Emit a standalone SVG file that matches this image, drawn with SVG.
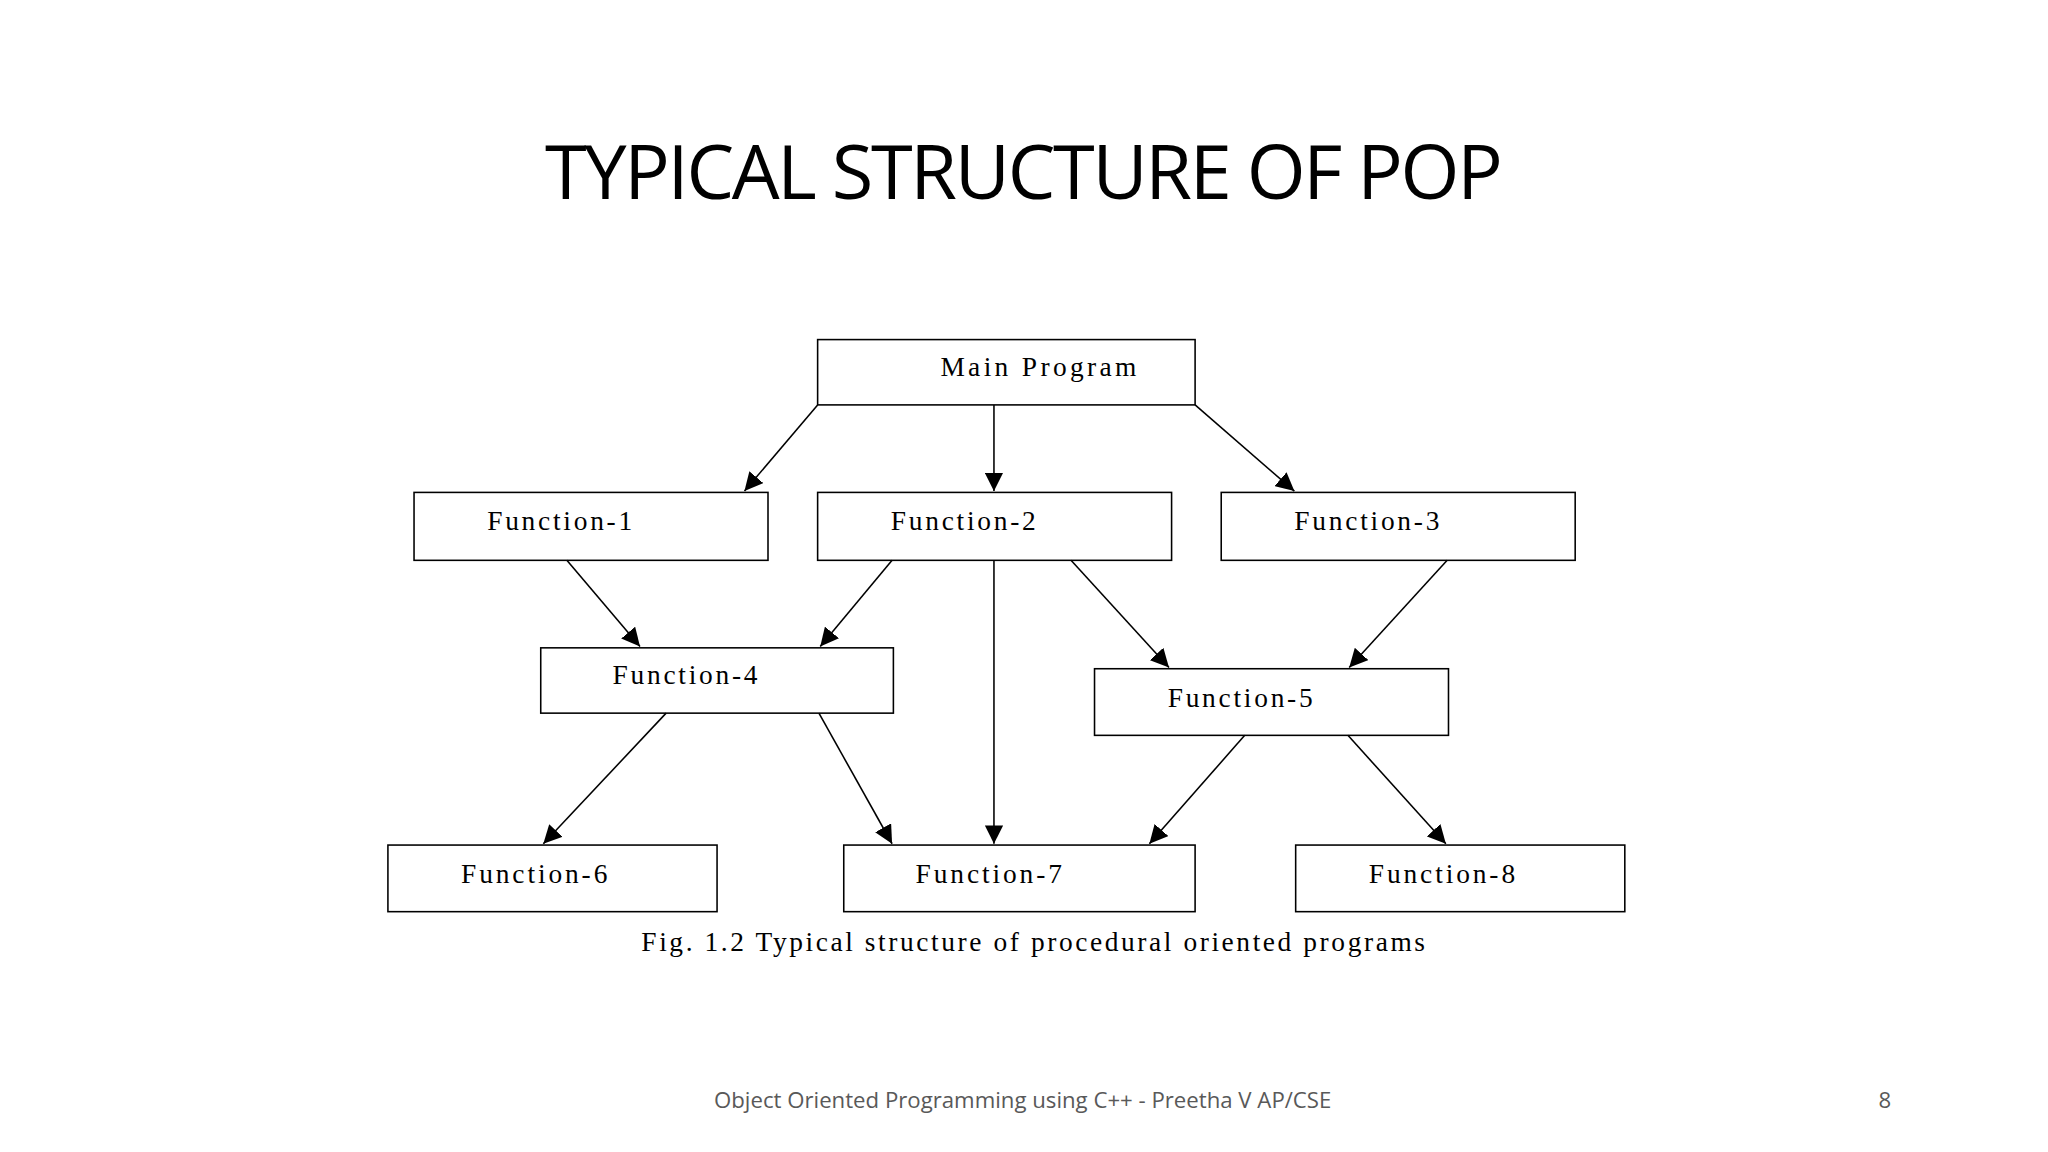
<svg xmlns="http://www.w3.org/2000/svg" width="2048" height="1152" viewBox="0 0 2048 1152">
<style>
.b{fill:#fff;stroke:#000;stroke-width:1.2}
.l{font-family:"Liberation Serif",serif;font-size:21px;fill:#000}
.c line{stroke:#000;stroke-width:1.2;marker-end:url(#a)}
</style>
<defs><marker id="a" viewBox="0 0 10 10" refX="10" refY="5" markerWidth="14" markerHeight="14" markerUnits="userSpaceOnUse" orient="auto"><path d="M0,0L10,5L0,10z" fill="#000"/></marker></defs>
<rect width="2048" height="1152" fill="#fff"/>
<g transform="scale(1.30612)">
<text x="783" y="152" text-anchor="middle" font-family="Open Sans,sans-serif" font-size="58" letter-spacing="-1.8" fill="#000">TYPICAL STRUCTURE OF POP</text>
<g id="main"><rect class="b" x="626" y="260" width="289" height="50"/><text class="l" x="720" y="288" textLength="150" lengthAdjust="spacing">Main Program</text></g>
<g id="f1"><rect class="b" x="317" y="377" width="271" height="52"/><text class="l" x="373" y="406" textLength="111" lengthAdjust="spacing">Function-1</text></g>
<g id="f2"><rect class="b" x="626" y="377" width="271" height="52"/><text class="l" x="682" y="406" textLength="111" lengthAdjust="spacing">Function-2</text></g>
<g id="f3"><rect class="b" x="935" y="377" width="271" height="52"/><text class="l" x="991" y="406" textLength="111" lengthAdjust="spacing">Function-3</text></g>
<g id="f4"><rect class="b" x="414" y="496" width="270" height="50"/><text class="l" x="469" y="524" textLength="111" lengthAdjust="spacing">Function-4</text></g>
<g id="f5"><rect class="b" x="838" y="512" width="271" height="51"/><text class="l" x="894" y="541" textLength="111" lengthAdjust="spacing">Function-5</text></g>
<g id="f6"><rect class="b" x="297" y="647" width="252" height="51"/><text class="l" x="353" y="676" textLength="112" lengthAdjust="spacing">Function-6</text></g>
<g id="f7"><rect class="b" x="646" y="647" width="269" height="51"/><text class="l" x="701" y="676" textLength="112" lengthAdjust="spacing">Function-7</text></g>
<g id="f8"><rect class="b" x="992" y="647" width="252" height="51"/><text class="l" x="1048" y="676" textLength="112" lengthAdjust="spacing">Function-8</text></g>
<g class="c">
<line x1="626" y1="310" x2="570" y2="376"/>
<line x1="761" y1="310" x2="761" y2="376"/>
<line x1="915" y1="310" x2="991" y2="376"/>
<line x1="434" y1="429" x2="490" y2="495"/>
<line x1="683" y1="429" x2="628" y2="495"/>
<line x1="761" y1="429" x2="761" y2="646"/>
<line x1="820" y1="429" x2="895" y2="511"/>
<line x1="1108" y1="429" x2="1033" y2="511"/>
<line x1="510" y1="546" x2="416" y2="646"/>
<line x1="627" y1="546" x2="683" y2="646"/>
<line x1="953" y1="563" x2="880" y2="646"/>
<line x1="1032" y1="563" x2="1107" y2="646"/>
</g>
<text class="l" x="491" y="728" font-size="22" textLength="600" lengthAdjust="spacing">Fig. 1.2 Typical structure of procedural oriented programs</text>
<text x="783" y="848" text-anchor="middle" font-family="Open Sans,sans-serif" font-size="17" fill="#595959">Object Oriented Programming using C++ - Preetha V AP/CSE</text>
<text x="1448" y="848" text-anchor="end" font-family="Open Sans,sans-serif" font-size="17" fill="#595959">8</text>
</g>
</svg>
